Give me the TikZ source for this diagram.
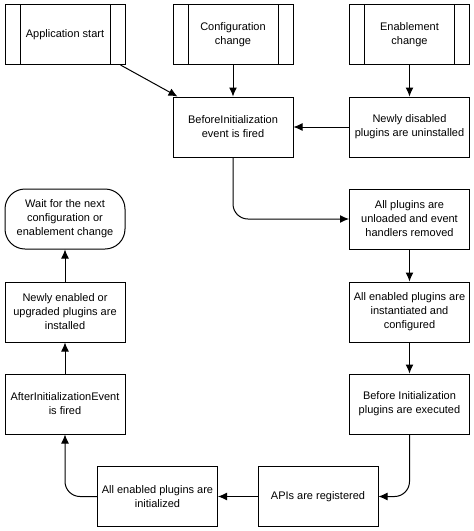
\documentclass[tikz,border=0pt]{standalone}
\usepackage{fontspec}
\setmainfont{Liberation Sans}
\usetikzlibrary{math,arrows.meta}

\tikzset{
    stepbox/.style={draw, line width=1pt, minimum width=120pt, minimum height=60pt,
        align=center, inner sep=1pt, font=\fontsize{11}{14}\selectfont},
    startbox/.style={stepbox, path picture={
        \draw[line width=1pt] ([xshift=15pt]path picture bounding box.north west) -- ([xshift=15pt]path picture bounding box.south west);
        \draw[line width=1pt] ([xshift=-15pt]path picture bounding box.north east) -- ([xshift=-15pt]path picture bounding box.south east);}},
    waitbox/.style={stepbox, rounded corners=20pt},
    flow/.style={line width=1pt, -{Latex[length=9pt,width=8pt]}, rounded corners=15pt}
}

\begin{document}
\begin{tikzpicture}[x=1pt, y=1pt]
            \tikzmath{\colL = 65; \colM = 233; \colR = 409.5; \rowA = -34.5; \rowB = -127; \rowC = -219; \rowD = -312; \rowE = -404; \rowF = -496.5;}
            \useasboundingbox (0,0) rectangle (474,-531);

            % triggers
            \node[startbox] (appstart) at (\colL, \rowA) {Application start};
            \node[startbox] (confchange) at (\colM, \rowA) {Configuration\\change};
            \node[startbox] (enabchange) at (\colR, \rowA) {Enablement\\change};

            % right column
            \node[stepbox] (beforeinit) at (\colM, \rowB) {BeforeInitialization\\event is fired};
            \node[stepbox] (disabled) at (\colR, \rowB) {Newly disabled\\plugins are uninstalled};
            \node[stepbox] (unloaded) at (\colR, \rowC) {All plugins are\\unloaded and event\\handlers removed};
            \node[stepbox] (instantiated) at (\colR, \rowD) {All enabled plugins are\\instantiated and\\configured};
            \node[stepbox] (beforeplugins) at (\colR, \rowE) {Before Initialization\\plugins are executed};

            % bottom row
            \node[stepbox] (apis) at (318, \rowF) {APIs are registered};
            \node[stepbox] (initialized) at (157.5, \rowF) {All enabled plugins are\\initialized};

            % left column
            \node[stepbox] (afterinit) at (\colL, \rowE) {AfterInitializationEvent\\is fired};
            \node[stepbox] (newlyenabled) at (\colL, \rowD) {Newly enabled or\\upgraded plugins are\\installed};
            \node[waitbox] (wait) at (\colL, \rowC) {Wait for the next\\configuration or\\enablement change};

            \draw[flow] ([xshift=-5pt]appstart.south east) -- ([xshift=5pt]beforeinit.north west);
            \draw[flow] (confchange) -- (beforeinit);
            \draw[flow] (enabchange) -- (disabled);
            \draw[flow] (disabled) -- (beforeinit);
            \draw[flow] (beforeinit.south) |- (unloaded.west);
            \draw[flow] (unloaded) -- (instantiated);
            \draw[flow] (instantiated) -- (beforeplugins);
            \draw[flow] (beforeplugins.south) |- (apis.east);
            \draw[flow] (apis) -- (initialized);
            \draw[flow] (initialized.west) -| (afterinit.south);
            \draw[flow] (afterinit) -- (newlyenabled);
            \draw[flow] (newlyenabled) -- (wait);
        \end{tikzpicture}
\end{document}
